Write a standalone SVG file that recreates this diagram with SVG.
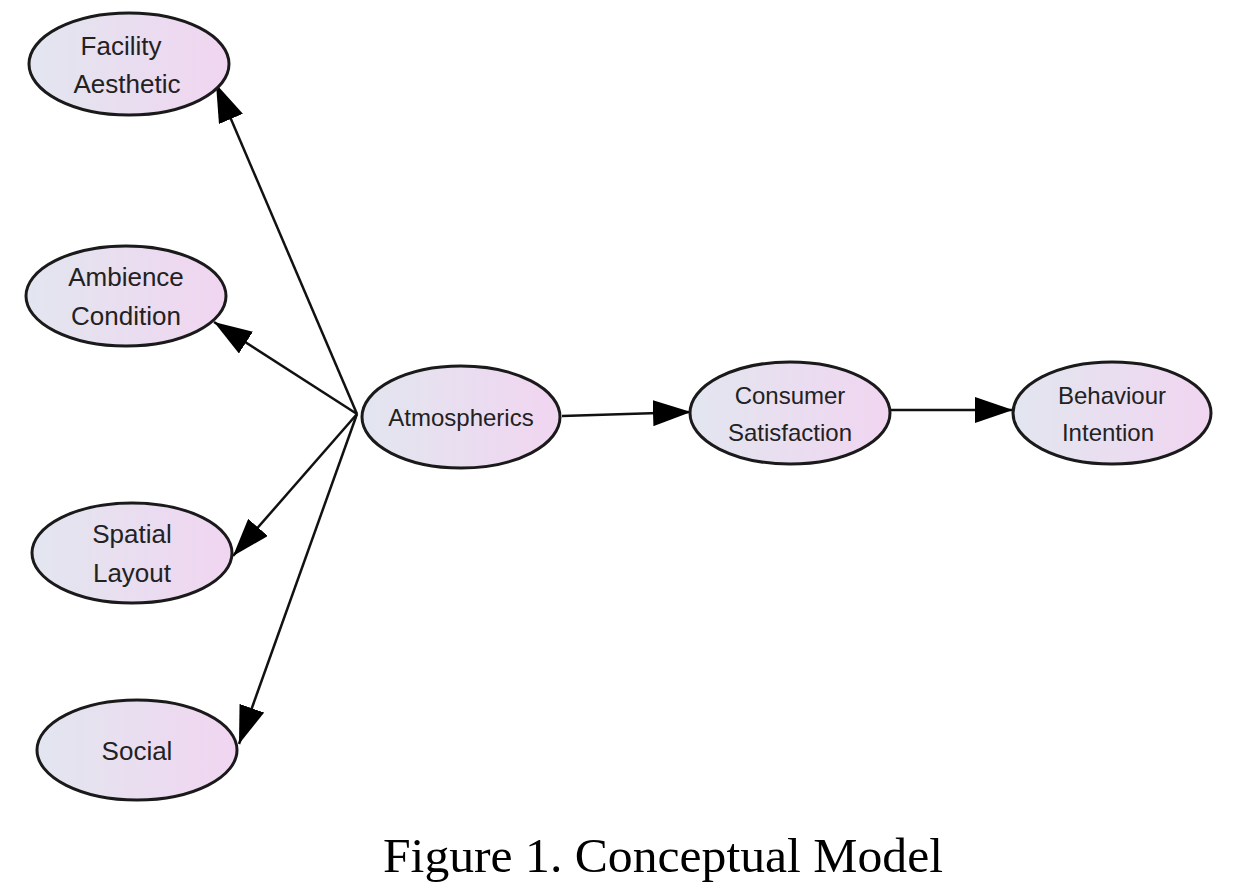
<svg xmlns="http://www.w3.org/2000/svg" width="1244" height="888" viewBox="0 0 1244 888">
<style>
.n{stroke:#1a1a1a;stroke-width:3;fill:url(#g)}
.t{font-family:"Liberation Sans",Arial,sans-serif;font-size:26px;fill:#222;text-anchor:middle}
.c{stroke:#111;stroke-width:2.5;fill:none;marker-end:url(#a)}
.cap{font-family:"Liberation Serif","Times New Roman",serif;font-size:49px;fill:#000;text-anchor:middle}
</style>
<defs>
<linearGradient id="g" x1="0" y1="0" x2="1" y2="0">
<stop offset="0" stop-color="#e2e6ef"/><stop offset="1" stop-color="#f1d5f1"/>
</linearGradient>
<marker id="a" markerWidth="38" markerHeight="26" refX="38" refY="13" orient="auto" markerUnits="userSpaceOnUse" viewBox="0 0 38 26">
<path d="M0,0 L38,13 L0,26 z" fill="#000"/>
</marker>
</defs>
<rect width="1244" height="888" fill="#fff"/>
<g id="connectors">
<path d="M357,414 L216,84" class="c"/>
<path d="M357,414 L214,322" class="c"/>
<path d="M357,414 L233,556" class="c"/>
<path d="M357,414 L239,744" class="c"/>
<path d="M562,416 L691,412" class="c"/>
<path d="M890,410 L1013,410" class="c"/>
</g>
<g id="facility"><ellipse class="n" cx="129" cy="64" rx="100" ry="51"/><text class="t" x="121" y="55">Facility</text><text class="t" x="127" y="93">Aesthetic</text></g>
<g id="ambience"><ellipse class="n" cx="126" cy="296" rx="100" ry="50"/><text class="t" x="126" y="286">Ambience</text><text class="t" x="126" y="325">Condition</text></g>
<g id="spatial"><ellipse class="n" cx="132" cy="553" rx="100" ry="50"/><text class="t" x="132" y="543">Spatial</text><text class="t" x="132" y="582">Layout</text></g>
<g id="social"><ellipse class="n" cx="137" cy="750" rx="100" ry="50"/><text class="t" x="137" y="760">Social</text></g>
<g id="atmospherics"><ellipse class="n" cx="461" cy="417" rx="99" ry="51"/><text class="t" x="461" y="426" style="font-size:24px">Atmospherics</text></g>
<g id="consumer"><ellipse class="n" cx="790" cy="413" rx="100" ry="51"/><text class="t" x="790" y="404" style="font-size:24px">Consumer</text><text class="t" x="790" y="441" style="font-size:24px">Satisfaction</text></g>
<g id="behaviour"><ellipse class="n" cx="1112" cy="413" rx="99" ry="51"/><text class="t" x="1112" y="404" style="font-size:24px">Behaviour</text><text class="t" x="1108" y="441" style="font-size:24px">Intention</text></g>
<text class="cap" x="663" y="872" textLength="560" lengthAdjust="spacingAndGlyphs">Figure 1. Conceptual Model</text>
</svg>
